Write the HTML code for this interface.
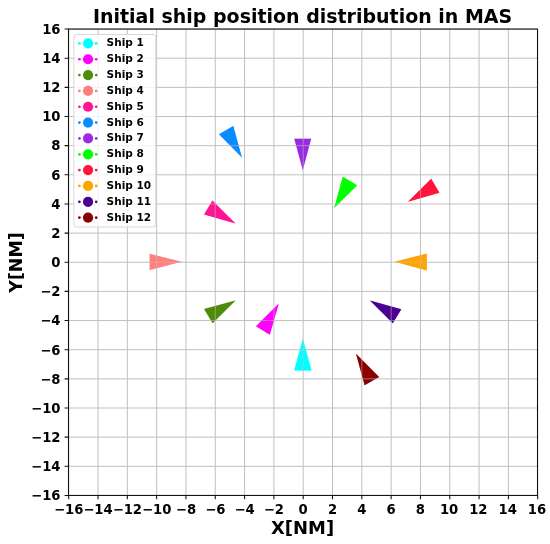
<!DOCTYPE html>
<html><head><meta charset="utf-8"><title>Initial ship position distribution in MAS</title>
<style>html,body{margin:0;padding:0;background:#fff}svg{display:block}text{font-family:"DejaVu Sans","Liberation Sans",sans-serif;font-weight:bold;fill:#000}</style></head><body>
<svg width="550" height="544" viewBox="0 0 550 544">
<rect width="550" height="544" fill="#fff"/>
<polygon points="302.8,339.0 294.2,370.6 311.6,370.6" fill="#00ffff"/>
<polygon points="278.8,303.5 256.0,326.2 269.8,334.7" fill="#ff00ff"/>
<polygon points="235.5,300.4 204.1,309.0 212.6,323.3" fill="#4f8b0c"/>
<polygon points="181.5,261.8 149.7,253.8 149.7,270.1" fill="#ff7f7f"/>
<polygon points="235.5,223.4 212.4,200.5 204.1,214.5" fill="#ff1493"/>
<polygon points="241.9,157.6 219.0,134.3 233.3,126.0" fill="#0a8cff"/>
<polygon points="302.8,170.0 294.3,138.8 311.1,138.8" fill="#9a2be2"/>
<polygon points="334.2,208.0 342.8,176.7 357.2,185.2" fill="#00ff00"/>
<polygon points="408.0,201.7 431.2,178.8 439.4,192.8" fill="#ff143c"/>
<polygon points="394.6,261.8 426.9,253.5 426.9,270.4" fill="#ffa500"/>
<polygon points="369.9,300.4 401.3,309.2 392.8,323.2" fill="#4b0092"/>
<polygon points="356.0,353.8 379.1,376.9 364.6,385.2" fill="#8b0000"/>
<path d="M68.70 29.05V495.45M68.5 495.45H537.5M98.01 29.05V495.45M68.5 466.30H537.5M127.33 29.05V495.45M68.5 437.15H537.5M156.64 29.05V495.45M68.5 408.00H537.5M185.95 29.05V495.45M68.5 378.85H537.5M215.26 29.05V495.45M68.5 349.70H537.5M244.57 29.05V495.45M68.5 320.55H537.5M273.89 29.05V495.45M68.5 291.40H537.5M303.20 29.05V495.45M68.5 262.25H537.5M332.51 29.05V495.45M68.5 233.10H537.5M361.82 29.05V495.45M68.5 203.95H537.5M391.14 29.05V495.45M68.5 174.80H537.5M420.45 29.05V495.45M68.5 145.65H537.5M449.76 29.05V495.45M68.5 116.50H537.5M479.07 29.05V495.45M68.5 87.35H537.5M508.39 29.05V495.45M68.5 58.20H537.5M537.70 29.05V495.45M68.5 29.05H537.5" stroke="#c0c0c0" stroke-width="1" fill="none"/>
<polygon points="302.8,339.0 294.2,370.6 311.6,370.6" fill="#00ffff" fill-opacity="0.45"/>
<polygon points="278.8,303.5 256.0,326.2 269.8,334.7" fill="#ff00ff" fill-opacity="0.45"/>
<polygon points="235.5,300.4 204.1,309.0 212.6,323.3" fill="#4f8b0c" fill-opacity="0.45"/>
<polygon points="181.5,261.8 149.7,253.8 149.7,270.1" fill="#ff7f7f" fill-opacity="0.45"/>
<polygon points="235.5,223.4 212.4,200.5 204.1,214.5" fill="#ff1493" fill-opacity="0.45"/>
<polygon points="241.9,157.6 219.0,134.3 233.3,126.0" fill="#0a8cff" fill-opacity="0.45"/>
<polygon points="302.8,170.0 294.3,138.8 311.1,138.8" fill="#9a2be2" fill-opacity="0.45"/>
<polygon points="334.2,208.0 342.8,176.7 357.2,185.2" fill="#00ff00" fill-opacity="0.45"/>
<polygon points="408.0,201.7 431.2,178.8 439.4,192.8" fill="#ff143c" fill-opacity="0.45"/>
<polygon points="394.6,261.8 426.9,253.5 426.9,270.4" fill="#ffa500" fill-opacity="0.45"/>
<polygon points="369.9,300.4 401.3,309.2 392.8,323.2" fill="#4b0092" fill-opacity="0.45"/>
<polygon points="356.0,353.8 379.1,376.9 364.6,385.2" fill="#8b0000" fill-opacity="0.45"/>
<path d="M68.70 495.45v3.9M68.5 495.45h-3.9M98.01 495.45v3.9M68.5 466.30h-3.9M127.33 495.45v3.9M68.5 437.15h-3.9M156.64 495.45v3.9M68.5 408.00h-3.9M185.95 495.45v3.9M68.5 378.85h-3.9M215.26 495.45v3.9M68.5 349.70h-3.9M244.57 495.45v3.9M68.5 320.55h-3.9M273.89 495.45v3.9M68.5 291.40h-3.9M303.20 495.45v3.9M68.5 262.25h-3.9M332.51 495.45v3.9M68.5 233.10h-3.9M361.82 495.45v3.9M68.5 203.95h-3.9M391.14 495.45v3.9M68.5 174.80h-3.9M420.45 495.45v3.9M68.5 145.65h-3.9M449.76 495.45v3.9M68.5 116.50h-3.9M479.07 495.45v3.9M68.5 87.35h-3.9M508.39 495.45v3.9M68.5 58.20h-3.9M537.70 495.45v3.9M68.5 29.05h-3.9" stroke="#111" stroke-width="1.07" fill="none"/>
<rect x="68.5" y="29.05" width="469.0" height="466.4" fill="none" stroke="#111" stroke-width="1.07"/>
<text x="68.70" y="513.8" font-size="13.2" text-anchor="middle">−16</text>
<text x="60.5" y="500.25" font-size="13.2" text-anchor="end">−16</text>
<text x="98.01" y="513.8" font-size="13.2" text-anchor="middle">−14</text>
<text x="60.5" y="471.10" font-size="13.2" text-anchor="end">−14</text>
<text x="127.33" y="513.8" font-size="13.2" text-anchor="middle">−12</text>
<text x="60.5" y="441.95" font-size="13.2" text-anchor="end">−12</text>
<text x="156.64" y="513.8" font-size="13.2" text-anchor="middle">−10</text>
<text x="60.5" y="412.80" font-size="13.2" text-anchor="end">−10</text>
<text x="185.95" y="513.8" font-size="13.2" text-anchor="middle">−8</text>
<text x="60.5" y="383.65" font-size="13.2" text-anchor="end">−8</text>
<text x="215.26" y="513.8" font-size="13.2" text-anchor="middle">−6</text>
<text x="60.5" y="354.50" font-size="13.2" text-anchor="end">−6</text>
<text x="244.57" y="513.8" font-size="13.2" text-anchor="middle">−4</text>
<text x="60.5" y="325.35" font-size="13.2" text-anchor="end">−4</text>
<text x="273.89" y="513.8" font-size="13.2" text-anchor="middle">−2</text>
<text x="60.5" y="296.20" font-size="13.2" text-anchor="end">−2</text>
<text x="303.20" y="513.8" font-size="13.2" text-anchor="middle">0</text>
<text x="60.5" y="267.05" font-size="13.2" text-anchor="end">0</text>
<text x="332.51" y="513.8" font-size="13.2" text-anchor="middle">2</text>
<text x="60.5" y="237.90" font-size="13.2" text-anchor="end">2</text>
<text x="361.82" y="513.8" font-size="13.2" text-anchor="middle">4</text>
<text x="60.5" y="208.75" font-size="13.2" text-anchor="end">4</text>
<text x="391.14" y="513.8" font-size="13.2" text-anchor="middle">6</text>
<text x="60.5" y="179.60" font-size="13.2" text-anchor="end">6</text>
<text x="420.45" y="513.8" font-size="13.2" text-anchor="middle">8</text>
<text x="60.5" y="150.45" font-size="13.2" text-anchor="end">8</text>
<text x="449.06" y="513.8" font-size="13.2" text-anchor="middle">10</text>
<text x="60.5" y="121.30" font-size="13.2" text-anchor="end">10</text>
<text x="478.38" y="513.8" font-size="13.2" text-anchor="middle">12</text>
<text x="60.5" y="92.15" font-size="13.2" text-anchor="end">12</text>
<text x="507.69" y="513.8" font-size="13.2" text-anchor="middle">14</text>
<text x="60.5" y="63.00" font-size="13.2" text-anchor="end">14</text>
<text x="537.00" y="513.8" font-size="13.2" text-anchor="middle">16</text>
<text x="60.5" y="33.85" font-size="13.2" text-anchor="end">16</text>
<text transform="translate(302.55,22.5) scale(1.0105,1)" font-size="18.8" text-anchor="middle">Initial ship position distribution in MAS</text>
<text transform="translate(302.6,533.7) scale(1.01,1)" font-size="17.8" text-anchor="middle">X[NM]</text>
<text transform="translate(21.8,262.5) rotate(-90)" font-size="17.4" text-anchor="middle">Y[NM]</text>
<rect x="73.9" y="34.5" width="81.9" height="192.5" rx="2.8" fill="#fff" fill-opacity="0.8" stroke="#d8d8d8" stroke-width="1"/>
<circle cx="79.4" cy="43.40" r="1.35" fill="#00ffff"/><circle cx="96.2" cy="43.40" r="1.35" fill="#00ffff"/><circle cx="88.05" cy="43.40" r="5.1" fill="#00ffff"/>
<text transform="translate(106.6,46.40) scale(1.028,1)" font-size="10.25">Ship 1</text>
<circle cx="79.4" cy="59.24" r="1.35" fill="#ff00ff"/><circle cx="96.2" cy="59.24" r="1.35" fill="#ff00ff"/><circle cx="88.05" cy="59.24" r="5.1" fill="#ff00ff"/>
<text transform="translate(106.6,62.24) scale(1.028,1)" font-size="10.25">Ship 2</text>
<circle cx="79.4" cy="75.08" r="1.35" fill="#4f8b0c"/><circle cx="96.2" cy="75.08" r="1.35" fill="#4f8b0c"/><circle cx="88.05" cy="75.08" r="5.1" fill="#4f8b0c"/>
<text transform="translate(106.6,78.08) scale(1.028,1)" font-size="10.25">Ship 3</text>
<circle cx="79.4" cy="90.92" r="1.35" fill="#ff7f7f"/><circle cx="96.2" cy="90.92" r="1.35" fill="#ff7f7f"/><circle cx="88.05" cy="90.92" r="5.1" fill="#ff7f7f"/>
<text transform="translate(106.6,93.92) scale(1.028,1)" font-size="10.25">Ship 4</text>
<circle cx="79.4" cy="106.76" r="1.35" fill="#ff1493"/><circle cx="96.2" cy="106.76" r="1.35" fill="#ff1493"/><circle cx="88.05" cy="106.76" r="5.1" fill="#ff1493"/>
<text transform="translate(106.6,109.76) scale(1.028,1)" font-size="10.25">Ship 5</text>
<circle cx="79.4" cy="122.60" r="1.35" fill="#0a8cff"/><circle cx="96.2" cy="122.60" r="1.35" fill="#0a8cff"/><circle cx="88.05" cy="122.60" r="5.1" fill="#0a8cff"/>
<text transform="translate(106.6,125.60) scale(1.028,1)" font-size="10.25">Ship 6</text>
<circle cx="79.4" cy="138.44" r="1.35" fill="#9a2be2"/><circle cx="96.2" cy="138.44" r="1.35" fill="#9a2be2"/><circle cx="88.05" cy="138.44" r="5.1" fill="#9a2be2"/>
<text transform="translate(106.6,141.44) scale(1.028,1)" font-size="10.25">Ship 7</text>
<circle cx="79.4" cy="154.28" r="1.35" fill="#00ff00"/><circle cx="96.2" cy="154.28" r="1.35" fill="#00ff00"/><circle cx="88.05" cy="154.28" r="5.1" fill="#00ff00"/>
<text transform="translate(106.6,157.28) scale(1.028,1)" font-size="10.25">Ship 8</text>
<circle cx="79.4" cy="170.12" r="1.35" fill="#ff143c"/><circle cx="96.2" cy="170.12" r="1.35" fill="#ff143c"/><circle cx="88.05" cy="170.12" r="5.1" fill="#ff143c"/>
<text transform="translate(106.6,173.12) scale(1.028,1)" font-size="10.25">Ship 9</text>
<circle cx="79.4" cy="185.96" r="1.35" fill="#ffa500"/><circle cx="96.2" cy="185.96" r="1.35" fill="#ffa500"/><circle cx="88.05" cy="185.96" r="5.1" fill="#ffa500"/>
<text transform="translate(106.6,188.96) scale(1.028,1)" font-size="10.25">Ship 10</text>
<circle cx="79.4" cy="201.80" r="1.35" fill="#4b0092"/><circle cx="96.2" cy="201.80" r="1.35" fill="#4b0092"/><circle cx="88.05" cy="201.80" r="5.1" fill="#4b0092"/>
<text transform="translate(106.6,204.80) scale(1.028,1)" font-size="10.25">Ship 11</text>
<circle cx="79.4" cy="217.64" r="1.35" fill="#8b0000"/><circle cx="96.2" cy="217.64" r="1.35" fill="#8b0000"/><circle cx="88.05" cy="217.64" r="5.1" fill="#8b0000"/>
<text transform="translate(106.6,220.64) scale(1.028,1)" font-size="10.25">Ship 12</text>
</svg></body></html>
